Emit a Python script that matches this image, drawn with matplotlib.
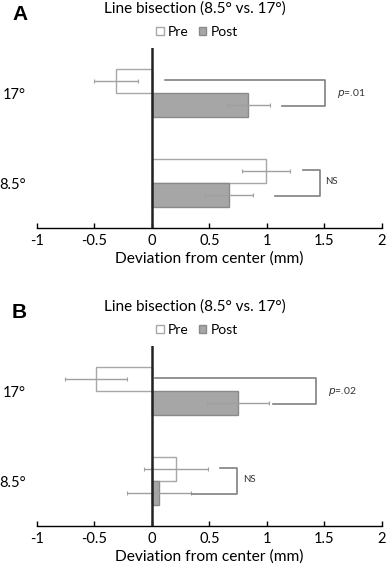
import numpy as np
import matplotlib.pyplot as plt

plt.rcParams['font.family'] = ['Lato', 'DejaVu Sans']

# data
categories = ['8.5°', '17°']
xticks = [-1, -0.5, 0, 0.5, 1, 1.5, 2]
xticklabels = ['-1', '-0.5', '0', '0.5', '1', '1.5', '2']

pre_A = [0.99, -0.31]
pre_A_err = [0.21, 0.19]
post_A = [0.67, 0.84]
post_A_err = [0.21, 0.19]
p_A = ['NS', 'p=.01']

pre_B = [0.21, -0.49]
pre_B_err = [0.28, 0.27]
post_B = [0.06, 0.75]
post_B_err = [0.28, 0.27]
p_B = ['NS', 'p=.02']

# bracket x positions: (start of top arm, right edge, start of bottom arm)
brackets_A = [(1.31, 1.46, 1.07), (0.11, 1.51, 1.13)]
brackets_B = [(0.59, 0.74, 0.35), (0.03, 1.43, 1.05)]

W, H = 387, 573
fig = plt.figure(figsize=(W / 100, H / 100), dpi=100)
axA = fig.add_axes([0.0956, 0.602, 0.891, 0.314])
axB = fig.add_axes([0.0956, 0.082, 0.891, 0.314])
renderer = fig.canvas.get_renderer()

h = 0.265
y = np.arange(len(categories))


def fit(txt, width_px):
    # scale font so the text is as wide as in the reference
    w = txt.get_window_extent(renderer).width
    txt.set_fontsize(txt.get_fontsize() * width_px / w)


def panel(ax, pre, pre_err, post, post_err, brackets, ptxt, letter, top):
    ekw = dict(ecolor='#a0a0a0', elinewidth=1.0, capsize=1.5, capthick=0.8)
    b1 = ax.barh(y + h / 2, pre, height=h, xerr=pre_err, color='white',
                 edgecolor='#a8a8a8', linewidth=1.0, error_kw=ekw, label='Pre')
    b2 = ax.barh(y - h / 2, post, height=h, xerr=post_err, color='#a6a6a6',
                 edgecolor='#8a8a8a', linewidth=1.0, error_kw=ekw, label='Post')
    ax.axvline(0, color='#222222', lw=1.8, zorder=5)

    for i, (a, r, b) in enumerate(brackets):
        ax.plot([a, r, r, b], [i + h / 2 + 0.01, i + h / 2 + 0.01,
                               i - h / 2 - 0.01, i - h / 2 - 0.01],
                color='#808080', lw=1.2, clip_on=False)
        t = ptxt[i]
        if t == 'NS':
            ax.text(r + 0.05, i + 0.02, 'NS', fontsize=7, va='center',
                    ha='left', color='#333333')
        else:
            ax.text(r + 0.1, i, '$p$' + t[1:], fontsize=7.5, va='center',
                    ha='left', color='#333333')

    ax.set_xlim(-1, 2)
    ax.set_ylim(-0.5, 1.5)
    ax.set_xticks(xticks)
    ax.set_xticklabels(xticklabels, fontsize=10.5)
    ax.set_yticks(y)
    ax.set_yticklabels(categories, fontsize=10.5)
    ax.tick_params(axis='y', length=0, pad=8)
    ax.tick_params(axis='x', direction='in', length=3.5, width=1, pad=4)
    for s in ['left', 'right', 'top']:
        ax.spines[s].set_visible(False)
    ax.spines['bottom'].set_linewidth(1.0)
    xl = ax.set_xlabel('Deviation from center (mm)', fontsize=11, labelpad=3)
    fit(xl, 188)

    # title, legend and panel letter in pixel positions from top
    tt = fig.text(195 / W, 1 - (top + 9) / H, 'Line bisection (8.5° vs. 17°)',
                  fontsize=11, ha='center', va='center')
    fit(tt, 181)
    fig.legend([b1, b2], ['Pre', 'Post'], loc='center',
               bbox_to_anchor=(197 / W, 1 - (top + 32) / H), ncol=2,
               frameon=False, fontsize=10, handlelength=0.55,
               handleheight=0.55, handletextpad=0.3, columnspacing=0.7,
               borderpad=0)
    fig.text(12 / W, 1 - (top + 14) / H, letter, fontsize=15,
             fontweight='bold', family='Liberation Sans', va='center')


panel(axA, pre_A, pre_A_err, post_A, post_A_err, brackets_A, p_A, 'A', 0)
panel(axB, pre_B, pre_B_err, post_B, post_B_err, brackets_B, p_B, 'B', 298)

fig.savefig('out.png', dpi=100)
